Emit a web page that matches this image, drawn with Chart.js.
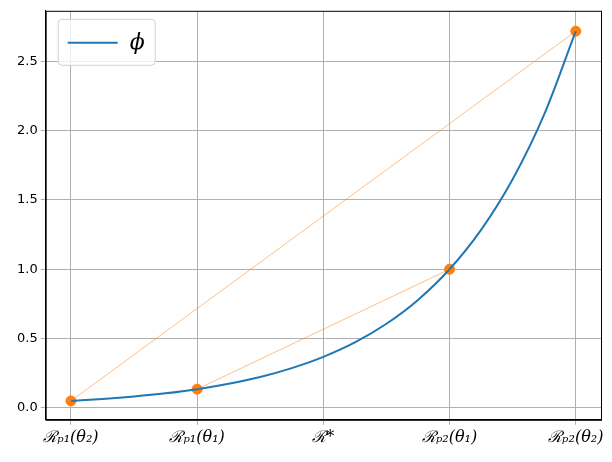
<!DOCTYPE html>
<html>
<head>
<meta charset="utf-8">
<script src="https://cdn.jsdelivr.net/npm/chart.js@4"></script>
<style>
  body { margin: 0; background: #fff; }
  #wrap { width: 612px; height: 462px; }
</style>
</head>
<body>
<div id="wrap"><canvas id="c" width="612" height="462"></canvas></div>
<script>
// phi curve
const curveX = [-3, -2.75, -2.5, -2.25, -2, -1.75, -1.5, -1.25, -1, -0.75, -0.5, -0.25, 0, 0.25, 0.5, 0.75, 1];
const curveY = [0.050, 0.064, 0.082, 0.105, 0.135, 0.174, 0.223, 0.287, 0.368, 0.472, 0.607, 0.779, 1.0, 1.284, 1.649, 2.117, 2.718];

// orange markers and chords
const pointX = [-3, -2, 0, 1];
const pointY = [0.050, 0.135, 1.0, 2.718];
const chordA = [[-3, 0.050], [1, 2.718]];
const chordB = [[-2, 0.135], [0, 1.0]];

const tickPos = [-3, -2, -1, 0, 1];
const tickLabels = ['ℛₚ₁(θ₂)', 'ℛₚ₁(θ₁)', 'ℛ*', 'ℛₚ₂(θ₁)', 'ℛₚ₂(θ₂)'];
const yTicks = [0, 0.5, 1.0, 1.5, 2.0, 2.5];

const blue = '#1f77b4';
const orange = '#ff7f0e';

const legendBox = {
  id: 'legendBox',
  afterDraw(chart) {
    const { ctx, chartArea: a } = chart;
    ctx.save();
    // frame around the plot
    ctx.strokeStyle = '#000';
    ctx.lineWidth = 1;
    ctx.strokeRect(a.left + 0.5, a.top + 0.5, a.right - a.left, a.bottom - a.top);

    const x = a.left + 12, y = a.top + 8;
    ctx.fillStyle = 'rgba(255,255,255,0.8)';
    ctx.strokeStyle = '#d0d0d0';
    ctx.beginPath();
    ctx.roundRect(x + 0.5, y + 0.5, 97, 46, 4);
    ctx.fill(); ctx.stroke();
    ctx.strokeStyle = blue;
    ctx.lineWidth = 2;
    ctx.beginPath();
    ctx.moveTo(x + 10, y + 24); ctx.lineTo(x + 60, y + 24);
    ctx.stroke();
    ctx.fillStyle = '#000';
    ctx.font = 'italic 22px "DejaVu Serif"';
    ctx.textBaseline = 'middle';
    ctx.fillText('ϕ', x + 72, y + 24);
    ctx.restore();
  }
};

new Chart(document.getElementById('c'), {
  type: 'scatter',
  data: {
    datasets: [
      {
        data: chordA.map(p => ({ x: p[0], y: p[1] })),
        showLine: true, borderColor: orange, borderWidth: 0.5, pointRadius: 0
      },
      {
        data: chordB.map(p => ({ x: p[0], y: p[1] })),
        showLine: true, borderColor: orange, borderWidth: 0.5, pointRadius: 0
      },
      {
        data: curveX.map((x, i) => ({ x, y: curveY[i] })),
        showLine: true, borderColor: blue, borderWidth: 2, pointRadius: 0,
        cubicInterpolationMode: 'monotone'
      },
      {
        data: pointX.map((x, i) => ({ x, y: pointY[i] })),
        pointRadius: 5, pointBackgroundColor: orange, pointBorderColor: orange
      }
    ]
  },
  options: {
    responsive: false,
    animation: false,
    layout: { padding: { top: 10, right: 11, left: 14, bottom: 12 } },
    plugins: { legend: { display: false }, tooltip: { enabled: false } },
    scales: {
      x: {
        type: 'linear', min: -3.2, max: 1.2,
        afterBuildTicks: s => { s.ticks = tickPos.map(v => ({ value: v })); },
        ticks: {
          color: '#000', font: { family: 'DejaVu Serif', style: 'italic', size: 16 },
          callback: v => tickLabels[tickPos.indexOf(v)]
        },
        grid: { color: '#b0b0b0', tickLength: 5 },
        border: { color: '#000' }
      },
      y: {
        min: -0.086, max: 2.865,
        afterBuildTicks: s => { s.ticks = yTicks.map(v => ({ value: v })); },
        ticks: { color: '#000', font: { family: 'DejaVu Sans', size: 13 }, callback: v => v.toFixed(1) },
        grid: { color: '#b0b0b0', tickLength: 5 },
        border: { color: '#000' }
      }
    }
  },
  plugins: [legendBox]
});
</script>
</body>
</html>
